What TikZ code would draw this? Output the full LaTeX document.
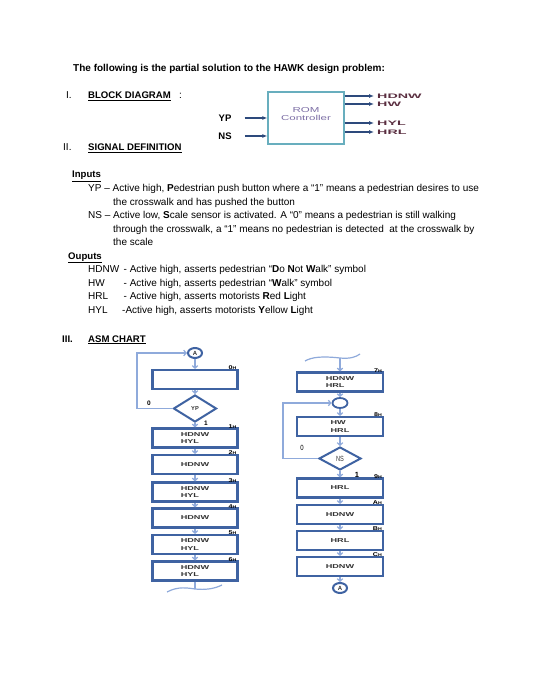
\documentclass[tikz,border=0pt]{standalone}
\usepackage{fontspec}
\setmainfont{Liberation Sans}
\usepackage{graphicx}
\usetikzlibrary{shapes.geometric,arrows.meta,calc}
\definecolor{boxblue}{HTML}{3F63A2}
\definecolor{linkblue}{HTML}{8FAADB}
\definecolor{romteal}{HTML}{68AEBE}
\definecolor{navy}{HTML}{2D4A7C}
\definecolor{outred}{HTML}{5A2E40}
\definecolor{romtxt}{HTML}{7D6FA6}
\definecolor{asmtxt}{HTML}{333333}
\newcommand\xsc[2]{\scalebox{#1}[1]{#2}}
\newcommand\asmt[1]{\xsc{1.6}{#1}}
\newcommand\stl[1]{\xsc{1.3}{#1{\fontsize{4}{4}\selectfont H}}}
\tikzset{
  body/.style={anchor=base west, inner sep=0pt, font=\fontsize{10}{12}\selectfont},
  head/.style={anchor=base west, inner sep=0pt, font=\fontsize{9.6}{12}\selectfont\bfseries},
  asmbox/.style={draw=boxblue, line width=2.1pt, minimum width=85pt, minimum height=19pt, inner sep=0pt, align=left, text=asmtxt, font=\fontsize{5.7}{7.5}\selectfont\bfseries},
  asmdia/.style={diamond, draw=boxblue, line width=2pt, minimum width=43pt, minimum height=27pt, inner sep=0pt, font=\fontsize{5.7}{6}\selectfont\bfseries, text=asmtxt},
  conn/.style={ellipse, draw=boxblue, line width=2pt, minimum width=14pt, minimum height=10pt, inner sep=0pt, font=\fontsize{6}{6}\selectfont\bfseries, text=asmtxt},
  flow/.style={draw=linkblue, line width=1.2pt, -{Straight Barb[length=2.5pt,width=5.5pt]}},
  plainline/.style={draw=linkblue, line width=1.2pt},
  stlab/.style={anchor=base east, inner sep=0pt, font=\fontsize{5.5}{6}\selectfont\bfseries, text=black},
  edgelab/.style={inner sep=0pt, font=\fontsize{6.5}{6}\selectfont\bfseries},
  inarrow/.style={draw=navy, line width=1.1pt, -{Latex[length=5pt,width=4pt]}},
  outlab/.style={anchor=west, inner sep=0pt, text=outred, font=\fontsize{6.5}{7}\selectfont\bfseries},
}
\begin{document}
\begin{tikzpicture}[x=1pt,y=-1pt]
\fill[white] (0,0) rectangle (546,700);
\useasboundingbox (0,0) rectangle (546,700);

% ---------- header text ----------
\node[head, font=\fontsize{10}{12}\selectfont\bfseries] (title) at (73,72) {The following is the partial solution to the HAWK design problem:};
\node[body] (n1) at (66,99) {I.};
\node[head] (h1) at (88,99) {\underline{BLOCK DIAGRAM}};
\node[body] (c1) at (179,99) {:};

% ---------- block diagram ----------
\node[draw=romteal, line width=1.3pt, minimum width=76pt, minimum height=52pt, inner sep=0pt] (rom) at (306,118) {};
\node[align=center, text=romtxt, inner sep=0pt, font=\fontsize{7.2}{8}\selectfont] (romt) at (306,114.5) {\xsc{1.6}{ROM}\\\xsc{1.6}{Controller}};
\node[inner sep=0pt, font=\fontsize{9.5}{10}\selectfont\bfseries] (inYP) at (225,118) {YP};
\node[inner sep=0pt, font=\fontsize{9.5}{10}\selectfont\bfseries] (inNS) at (225,136) {NS};
\draw[inarrow] ($(inYP.east)+(13,0)$) -- (rom.west |- inYP);
\draw[inarrow] ($(inNS.east)+(13,0)$) -- (rom.west |- inNS);
\node[outlab] (oHDNW) at (377,96) {\xsc{2.2}{HDNW}};
\node[outlab] (oHW) at (377,104) {\xsc{2.2}{HW}};
\node[outlab] (oHYL) at (377,123) {\xsc{2.2}{HYL}};
\node[outlab] (oHRL) at (377,132) {\xsc{2.2}{HRL}};
\draw[inarrow] (rom.east |- oHDNW) -- ($(oHDNW.west)+(-3,0)$);
\draw[inarrow] (rom.east |- oHW) -- ($(oHW.west)+(-3,0)$);
\draw[inarrow] (rom.east |- oHYL) -- ($(oHYL.west)+(-3,0)$);
\draw[inarrow] (rom.east |- oHRL) -- ($(oHRL.west)+(-3,0)$);

% ---------- signal definition ----------
\node[body] (n2) at (63,151) {II.};
\node[head] (h2) at (88,151) {\underline{SIGNAL DEFINITION}};
\node[head] (inp) at (72,178) {\underline{Inputs}};
\node[body] (l1) at (88,192) {YP – Active high, \textbf{P}edestrian push button where a “1” means a pedestrian desires to use};
\node[body] (l2) at (113,205.5) {the crosswalk and has pushed the button};
\node[body] (l3) at (88,219) {NS – Active low, \textbf{S}cale sensor is activated. A “0” means a pedestrian is still walking};
\node[body] (l4) at (113,232.5) {through the crosswalk, a “1” means no pedestrian is detected\ \ at the crosswalk by};
\node[body] (l5) at (113,246) {the scale};
\node[head] (outp) at (68,259) {\underline{Ouputs}};
\node[body] (s1) at (88,272.5) {HDNW};
\node[body] (d1) at (123.5,272.5) {- Active high, asserts pedestrian “\textbf{D}o \textbf{N}ot \textbf{W}alk” symbol};
\node[body] (s2) at (88,286) {HW};
\node[body] (d2) at (123.5,286) {- Active high, asserts pedestrian “\textbf{W}alk” symbol};
\node[body] (s3) at (88,299.5) {HRL};
\node[body] (d3) at (123.5,299.5) {- Active high, asserts motorists \textbf{R}ed \textbf{L}ight};
\node[body] (s4) at (88,313) {HYL};
\node[body] (d4) at (122,313) {-Active high, asserts motorists \textbf{Y}ellow \textbf{L}ight};
\node[head] (n3) at (62,342) {III.};
\node[head] (h3) at (88,342) {\underline{ASM CHART}};

% ---------- ASM chart, left ----------
\node[conn] (atop) at (195,353) {A};
\node[asmbox] (b0) at (195,379.5) {};
\node[asmdia] (yp) at (195,408.5) {YP};
\node[asmbox] (b1) at (195,438) {\asmt{HDNW}\\\asmt{HYL}};
\node[asmbox] (b2) at (195,464.5) {\asmt{HDNW}};
\node[asmbox] (b3) at (195,492) {\asmt{HDNW}\\\asmt{HYL}};
\node[asmbox] (b4) at (195,518) {\asmt{HDNW}};
\node[asmbox] (b5) at (195,544.5) {\asmt{HDNW}\\\asmt{HYL}};
\node[asmbox] (b6) at (195,571) {\asmt{HDNW}\\\asmt{HYL}};
\foreach \b/\t in {b0/0,b1/1,b2/2,b3/3,b4/4,b5/5,b6/6}
  \node[stlab] (\b lab) at ($(\b.north east)+(-2,1)$) {\stl{\t}};
\draw[flow] (atop) -- (b0);
\draw[flow] (b0) -- (yp);
\draw[flow] (yp) -- (b1);
\draw[flow] (b1) -- (b2);
\draw[flow] (b2) -- (b3);
\draw[flow] (b3) -- (b4);
\draw[flow] (b4) -- (b5);
\draw[flow] (b5) -- (b6);
\coordinate (lloop) at (137,380);
\draw[flow] (yp.west) -- (yp.west -| lloop) -- (lloop |- atop) -- (atop.west);
\node[edgelab] (yp0) at (149,403) {0};
\node[edgelab] (yp1) at (206,423) {1};
\coordinate (wbot) at (195,589);
\draw[plainline] (b6.south) -- (wbot);
\draw[plainline] (167,592) .. controls (178,586) and (188,588) .. (wbot) .. controls (205,590) and (214,589) .. (222,585);

% ---------- ASM chart, right ----------
\coordinate (wtop) at (340,358);
\draw[plainline] (305,361) .. controls (312,357) and (322,356) .. (wtop) .. controls (350,359) and (356,357) .. (360,354);
\node[asmbox, minimum width=86pt] (b7) at (340,382) {\asmt{HDNW}\\\asmt{HRL}};
\node[ellipse, draw=boxblue, line width=1.8pt, minimum width=15pt, minimum height=10pt, inner sep=0pt] (jn) at (340,403) {};
\node[asmbox, minimum width=86pt] (b8) at (340,426.5) {\asmt{HW}\\\asmt{HRL}};
\node[asmdia, minimum width=42pt, minimum height=23pt, font=\fontsize{7.5}{7}\selectfont] (ns) at (340,458.5) {\xsc{0.75}{NS}};
\node[asmbox, minimum width=86pt] (b9) at (340,488) {\asmt{HRL}};
\node[asmbox, minimum width=86pt] (bA) at (340,514.5) {\asmt{HDNW}};
\node[asmbox, minimum width=86pt] (bB) at (340,540.5) {\asmt{HRL}};
\node[asmbox, minimum width=86pt] (bC) at (340,566.5) {\asmt{HDNW}};
\node[conn] (abot) at (340,588) {A};
\foreach \b/\t in {b7/7,b8/8,b9/9,bA/A,bB/B,bC/C}
  \node[stlab] (\b lab) at ($(\b.north east)+(-2,1)$) {\stl{\t}};
\draw[flow] (wtop) -- (b7);
\draw[flow] (b7) -- (jn);
\draw[flow] (jn) -- (b8);
\draw[flow] (b8) -- (ns);
\draw[flow] (ns) -- (b9);
\draw[flow] (b9) -- (bA);
\draw[flow] (bA) -- (bB);
\draw[flow] (bB) -- (bC);
\draw[flow] (bC) -- (abot);
\coordinate (rloop) at (283,430);
\draw[flow] (ns.west) -- (ns.west -| rloop) -- (rloop |- jn) -- (jn.west);
\node[inner sep=0pt, font=\fontsize{7.5}{8}\selectfont] (ns0) at (302,448) {\xsc{0.8}{0}};
\node[inner sep=0pt, font=\fontsize{7.5}{8}\selectfont\bfseries] (ns1) at (357,475) {1};
\end{tikzpicture}
\end{document}
